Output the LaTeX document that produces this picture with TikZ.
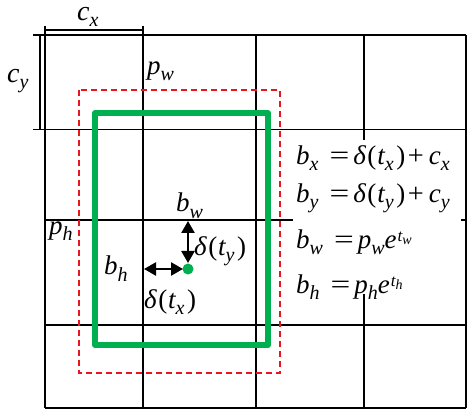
\documentclass[tikz,border=0pt]{standalone}
\usepackage{fontspec}
\setmainfont{Liberation Serif}
\usetikzlibrary{arrows.meta}
\definecolor{boxgreen}{RGB}{0,176,80}
\definecolor{boxred}{RGB}{235,20,30}
\newcommand{\mf}{\fontsize{27}{29}\selectfont}
\newcommand{\bigf}{\fontsize{28}{30}\selectfont}
\newcommand{\sbx}[1]{\raisebox{-6pt}{\fontsize{20}{20}\selectfont\itshape #1}}
\newcommand{\supt}[1]{\hspace{1pt}\raisebox{6pt}{\fontsize{17}{17}\selectfont\itshape t\raisebox{-3pt}{\fontsize{14}{14}\selectfont\itshape #1}}}
\newcommand{\up}[1]{{\upshape #1}}
\newcommand{\eqs}{\hspace{11pt}\scalebox{1.3}[1]{\upshape=}\hspace{4pt}}
\newcommand{\pls}{\hspace{2.5pt}\scalebox{1.05}[1]{\upshape+}\hspace{5pt}}
\newcommand{\dl}[1]{δ\hspace{1.5pt}\up{(}\hspace{1pt}t\sbx{#1}\hspace{2.5pt}\up{)}}
\tikzset{
  gridline/.style={black, line width=1.2pt},
  dimline/.style={black, line width=2.2pt},
  anchorbox/.style={boxred, line width=2.8pt, dash pattern=on 6pt off 4pt},
  predbox/.style={boxgreen, line width=6pt, line join=round},
  lbl/.style={inner sep=0pt, font=\mf\itshape, anchor=base west},
  eq/.style={inner sep=0pt, font=\mf\itshape, anchor=base west},
  dbl/.style={line width=2.5pt, {Triangle[width=13pt,length=12pt]}-{Triangle[width=13pt,length=12pt]}}
}
\begin{document}
\begin{tikzpicture}[x=1pt,y=-1pt]
\useasboundingbox (0,0) rectangle (474,414);
% grid
\foreach \yy in {220,325,408} \draw[gridline] (45,\yy) -- (466,\yy);
\foreach \yy in {35,129.5} \draw[gridline] (33,\yy) -- (466,\yy);
\foreach \xx in {256,364,466} \draw[gridline] (\xx,35) -- (\xx,408);
\foreach \xx in {45,143} \draw[gridline] (\xx,26) -- (\xx,408);
% dimension lines
\coordinate (cxa) at (45,30);
\coordinate (cxb) at (143,30);
\coordinate (cya) at (40,35);
\coordinate (cyb) at (40,129.5);
\draw[dimline] (cxa) -- (cxb);
\draw[dimline] (cya) -- (cyb);
% boxes
\draw[anchorbox] (79,90) rectangle (280,373);
\draw[predbox] (95,113) rectangle (268,345);
% white panel for equations
\fill[white] (293,140) rectangle (461,294);
% centre dot and arrows
\node[circle, fill=boxgreen, inner sep=0pt, minimum size=11pt] (dot) at (188,269) {};
\coordinate (vtop) at (188,221);
\coordinate (vbot) at (188,263);
\coordinate (hleft) at (144,269);
\coordinate (hright) at (183,269);
\draw[dbl] (vtop) -- (vbot);
\draw[dbl] (hleft) -- (hright);
% labels
\node[lbl, font=\bigf\itshape, text height=12pt] (lcx) at (77,21) {c\sbx{x}};
\node[lbl, font=\bigf\itshape] (lcy) at (7,83) {c\sbx{y}};
\node[lbl] (lpw) at (147,75) {p\sbx{w}};
\node[lbl] (lph) at (49,235) {p\sbx{h}};
\node[lbl] (lbw) at (176,212) {b\sbx{w}};
\node[lbl] (lbh) at (104,275) {b\sbx{h}};
\node[lbl] (ldy) at (194,255) {\dl{y}};
\node[lbl] (ldx) at (144,308) {\dl{x}};
% equations
\node[eq] (e1) at (296,165) {b\sbx{x}\eqs \dl{x}\pls c\sbx{x}};
\node[eq] (e2) at (296,203) {b\sbx{y}\eqs \dl{y}\pls c\sbx{y}};
\node[eq] (e3) at (296,248) {b\sbx{w}\eqs p\sbx{w}e\supt{w}};
\node[eq] (e4) at (296,293) {b\sbx{h}\eqs p\sbx{h}e\supt{h}};
\end{tikzpicture}
\end{document}
